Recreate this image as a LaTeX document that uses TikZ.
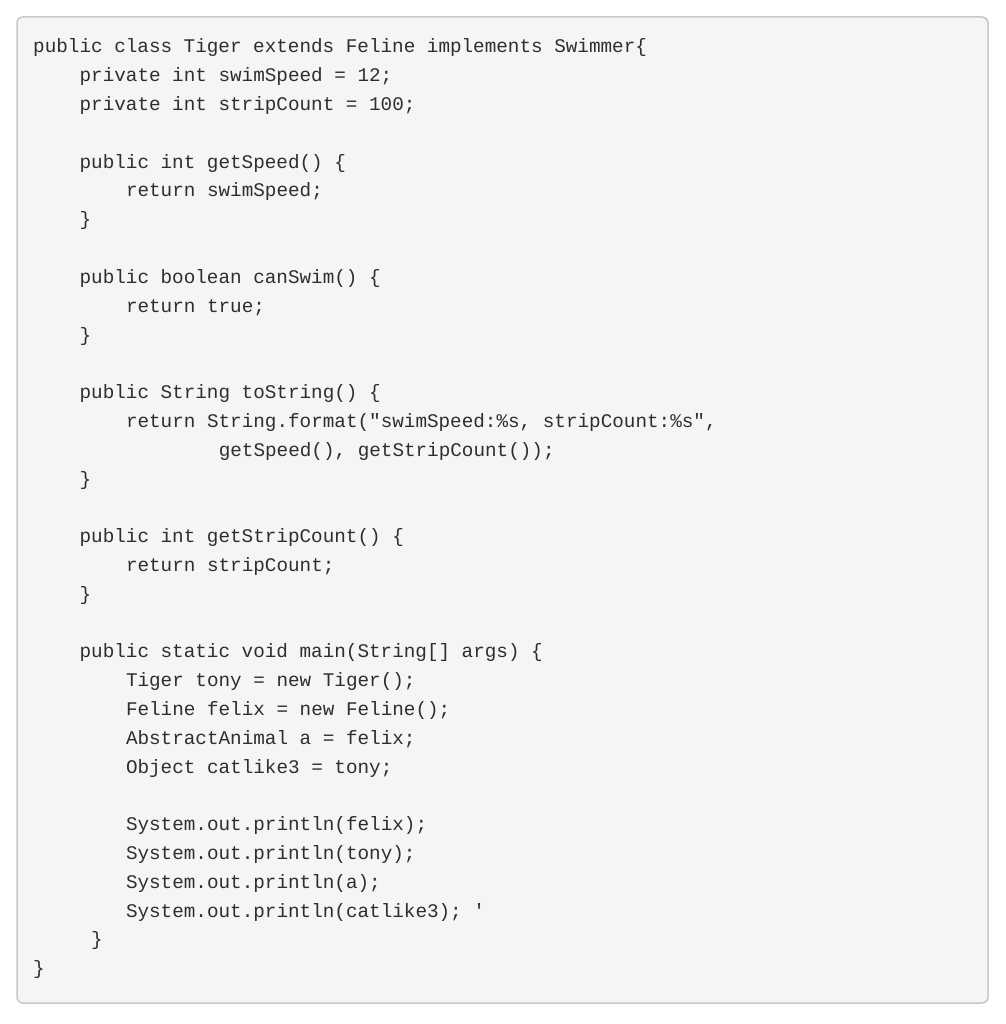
\documentclass[tikz,border=0pt]{standalone}
\usepackage{fontspec}
\setmonofont{Liberation Mono}
\begin{document}
\begin{tikzpicture}[x=1pt,y=-1pt,
  code/.style={anchor=base west,inner sep=0pt,font=\fontsize{19.3}{20}\ttfamily,text=black!82}]
\useasboundingbox (0,0) rectangle (1005,1024);
\fill[white] (0,0) rectangle (1005,1024);
\draw[draw=black!22,fill=black!4,line width=1.5pt,rounded corners=6pt] (17,17) rectangle (988,1003);
\def\cw{11.6}
\def\lh{28.8}
\newcommand\cl[3]{\node[code] (l#1) at ({33+\cw*#2},{53+\lh*(#1-1)}) {#3};}
\cl{1}{0}{public class Tiger extends Feline implements Swimmer\{}
\cl{2}{4}{private int swimSpeed = 12;}
\cl{3}{4}{private int stripCount = 100;}
\cl{5}{4}{public int getSpeed() \{}
\cl{6}{8}{return swimSpeed;}
\cl{7}{4}{\}}
\cl{9}{4}{public boolean canSwim() \{}
\cl{10}{8}{return true;}
\cl{11}{4}{\}}
\cl{13}{4}{public String toString() \{}
\cl{14}{8}{return String.format("swimSpeed:\%s, stripCount:\%s",}
\cl{15}{16}{getSpeed(), getStripCount());}
\cl{16}{4}{\}}
\cl{18}{4}{public int getStripCount() \{}
\cl{19}{8}{return stripCount;}
\cl{20}{4}{\}}
\cl{22}{4}{public static void main(String[] args) \{}
\cl{23}{8}{Tiger tony = new Tiger();}
\cl{24}{8}{Feline felix = new Feline();}
\cl{25}{8}{AbstractAnimal a = felix;}
\cl{26}{8}{Object catlike3 = tony;}
\cl{28}{8}{System.out.println(felix);}
\cl{29}{8}{System.out.println(tony);}
\cl{30}{8}{System.out.println(a);}
\cl{31}{8}{System.out.println(catlike3); '}
\cl{32}{5}{\}}
\cl{33}{0}{\}}
\end{tikzpicture}
\end{document}
